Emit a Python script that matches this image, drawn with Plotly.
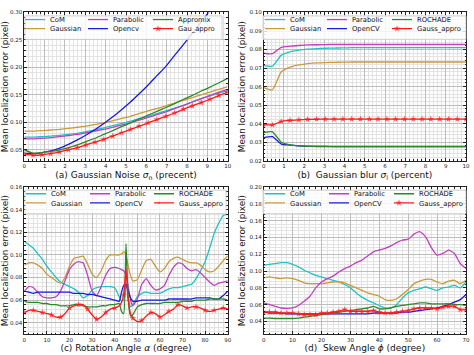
import plotly.graph_objects as go

# ---------------- data ----------------
# (a) Gaussian noise
X_A = [0, 0.43, 0.87, 1.30, 1.74, 2.17, 2.61, 3.04, 3.48, 3.91, 4.35, 4.78,
       5.22, 5.65, 6.09, 6.52, 6.96, 7.39, 7.83, 8.26, 8.70, 9.13, 9.57, 10]
A_COM = [.073, .073, .074, .075, .076, .078, .080, .083, .086, .090, .094, .098,
         .102, .107, .111, .116, .121, .126, .131, .137, .143, .148, .153, .158]
A_GAUSS = [.084, .084, .085, .086, .087, .089, .091, .093, .096, .099, .103, .107,
           .111, .116, .121, .125, .130, .135, .140, .145, .150, .155, .160, .165]
A_PARAB = [.070, .070, .071, .072, .074, .076, .078, .081, .084, .087, .091, .095,
           .099, .104, .109, .114, .119, .125, .131, .137, .143, .149, .155, .160]
A_OPENCV = [.044, .043, .045, .048, .053, .060, .068, .077, .087, .098, .110, .123,
            .137, .152, .168, .185, .202, .222, .242, .262, .283, .304, .326, .349]
A_APPROMIX = [.050, .044, .045, .047, .050, .054, .059, .065, .071, .078, .085, .092,
              .099, .106, .113, .120, .127, .134, .142, .149, .157, .164, .172, .180]
A_GAUAPPRO = [.042, .040, .041, .043, .046, .050, .054, .059, .064, .069, .075, .081,
              .087, .093, .099, .105, .111, .117, .124, .130, .136, .142, .149, .155]

# (b) Gaussian blur
X_B = X_A
B_COM = [.0713, .0710, .0770, .0788, .0797, .0802, .0805, .0807, .0808, .0809, .0810, .0810,
         .0810, .0810, .0810, .0810, .0810, .0810, .0810, .0810, .0810, .0810, .0810, .0810]
B_GAUSS = [.0595, .0583, .0680, .0705, .0717, .0724, .0728, .0730, .0731, .0732, .0733, .0733,
           .0733, .0733, .0733, .0733, .0733, .0733, .0733, .0733, .0733, .0733, .0733, .0733]
B_PARAB = [.0780, .0778, .0812, .0818, .0822, .0825, .0826, .0827, .0828, .0828, .0828, .0828,
           .0828, .0828, .0828, .0828, .0828, .0828, .0828, .0828, .0828, .0828, .0828, .0828]
B_OPENCV = [.0325, .0330, .0290, .0285, .0280, .0278, .0277, .0277, .0276, .0276, .0276, .0276,
            .0276, .0276, .0276, .0276, .0276, .0276, .0276, .0276, .0276, .0276, .0276, .0276]
B_ROCHADE = [.0352, .0356, .0300, .0286, .0281, .0279, .0278, .0278, .0277, .0277, .0277, .0277,
             .0277, .0277, .0277, .0277, .0277, .0277, .0277, .0277, .0277, .0277, .0277, .0277]
B_GAUSSAPPRO = [.0395, .0393, .0412, .0418, .0421, .0423, .0424, .0425, .0425, .0425, .0425, .0425,
                .0425, .0425, .0425, .0425, .0425, .0425, .0425, .0425, .0425, .0425, .0425, .0425]

# (c) Rotation angle
X_C = [0, 2, 4, 6, 8, 10, 12, 14, 16, 18, 20, 22, 24, 26, 28, 30, 32, 34, 36, 38, 40, 42,
       43, 44, 45, 46, 47,
       48, 50, 52, 54, 56, 58, 60, 62, 64, 66, 68, 70, 72, 74, 76, 78, 80, 82, 84, 86, 88, 90]
C_COM = [.112, .109, .106, .101, .096, .090, .085, .080, .076, .074, .072, .070, .067, .062, .064,
         .069, .071, .072, .072, .072, .071, .063,
         .059, .060, .075, .062, .054,
         .056, .063, .066, .067, .066, .066, .066, .068, .070, .071, .071, .072, .073, .074, .079,
         .086, .094, .106, .119, .128, .135, .136]
C_GAUSS = [.091, .093, .093, .091, .088, .083, .080, .077, .075, .080, .090, .097, .098, .099, .092,
           .083, .080, .086, .095, .100, .100, .100,
           .101, .103, .100, .090, .082,
           .077, .078, .087, .095, .096, .090, .085, .088, .094, .097, .098, .096, .094, .093, .093,
           .091, .087, .085, .086, .090, .095, .099]
C_PARAB = [.068, .072, .071, .067, .063, .062, .062, .063, .068, .077, .087, .092, .094, .093, .082,
           .068, .064, .072, .082, .088, .089, .088,
           .087, .086, .082, .072, .060,
           .055, .061, .074, .079, .073, .069, .070, .073, .082, .089, .093, .092, .088, .086, .087,
           .084, .080, .076, .073, .075, .076, .077]
C_OPENCV = [.068, .067, .066, .067, .067, .067, .067, .067, .067, .067, .067, .066, .066, .066, .065,
            .065, .064, .063, .062, .061, .060, .059,
            .067, .073, .074, .068, .062,
            .059, .059, .060, .060, .060, .060, .060, .060, .061, .061, .061, .061, .061, .061, .062,
            .062, .062, .062, .061, .061, .064, .068]
C_ROCHADE = [.059, .058, .058, .058, .057, .057, .056, .056, .055, .055, .055, .056, .056, .055, .054,
             .054, .054, .055, .055, .056, .056, .057,
             .050, .048, .110, .060, .046,
             .047, .054, .056, .057, .057, .057, .057, .058, .058, .058, .058, .059, .059, .059, .060,
             .060, .060, .061, .061, .061, .061, .060]
C_GAUSSAPPRO = [.049, .051, .051, .050, .049, .048, .047, .045, .045, .048, .053, .055, .056, .056, .052,
                .047, .043, .045, .049, .052, .053, .055,
                .058, .065, .088, .060, .048,
                .044, .041, .042, .046, .049, .048, .045, .047, .050, .052, .056, .055, .053, .054, .054,
                .053, .051, .050, .051, .052, .053, .052]

# (d) Skew angle
X_D = [0, 2, 4, 6, 8, 10, 12, 14, 16, 18, 20, 22, 24, 26, 28, 30, 32, 34,
       36, 38, 40, 42, 44, 46, 48, 50, 52, 54, 56, 58, 60, 62, 64, 66, 68, 70]
D_COM = [.107, .108, .109, .110, .110, .108, .105, .101, .098, .095, .093, .091, .089, .087, .084,
         .080, .074, .069, .065, .062, .059, .056, .056, .060, .068, .074, .077, .079, .081, .079,
         .077, .080, .081, .083, .080, .087]
D_GAUSS = [.092, .093, .092, .091, .092, .091, .089, .086, .085, .085, .085, .086, .087, .087, .086,
           .083, .080, .077, .074, .072, .070, .066, .065, .067, .072, .078, .085, .088, .090, .090,
           .087, .085, .088, .089, .085, .089]
D_PARAB = [.062, .060, .058, .056, .0555, .056, .059, .064, .070, .080, .087, .091, .094, .099, .103,
           .106, .110, .113, .118, .123, .125, .127, .130, .134, .137, .138, .144, .147, .141, .128,
           .119, .121, .125, .121, .109, .103]
D_OPENCV = [.051, .050, .050, .050, .049, .049, .049, .049, .049, .049, .049, .049, .049, .049, .049,
            .049, .049, .049, .049, .050, .050, .050, .050, .050, .051, .051, .052, .053, .054, .055,
            .056, .058, .060, .063, .066, .072]
D_ROCHADE = [.044, .044, .0435, .0435, .0435, .0435, .044, .045, .046, .047, .048, .049, .050, .051,
             .052, .053, .054, .055, .056, .058, .055, .055, .056, .058, .059, .060, .061, .062, .062,
             .061, .061, .061, .061, .060, .060, .059]
D_GAUSSAPPRO = [.051, .051, .051, .050, .050, .050, .049, .048, .048, .048, .050, .050, .051, .052,
                .054, .052, .052, .052, .052, .053, .051, .050, .050, .051, .052, .053, .055, .056,
                .056, .056, .055, .057, .058, .058, .054, .054]

# ---------------- style ----------------
C_CYAN = "#1fc3c3"
C_GOLD = "#c99a3c"
C_MAG = "#c040c0"
C_GREEN = "#2a8a2a"
C_BLUE = "#1a1ae0"
C_RED = "#ff1a1a"
FONT = "DejaVu Sans"

W, H = 474, 355
ML, MR, MT, MB = 24, 8, 5, 21
PW, PH = W - ML - MR, H - MT - MB


def px(xp):
    return (xp - ML) / PW


def py(yp):
    return (H - MB - yp) / PH


fig = go.Figure()

# legend entry slots: (column text x in px, row)
TEXT_X = {1: (50, 113, 178), 2: (290, 352, 417), 3: (51, 115, 179), 4: (290, 354, 419)}
ROW_Y = {1: (15.7, 25.0), 2: (15.7, 25.0), 3: (193.7, 203.0), 4: (193.7, 203.0)}
legends = {}


def add(xs, ys, name, color, axis, col, row, marker_every=None):
    xa = "x" if axis == 1 else "x%d" % axis
    ya = "y" if axis == 1 else "y%d" % axis
    idx = len(legends) + 1
    lname = "legend" if idx == 1 else "legend%d" % idx
    legends[lname] = dict(
        x=px(TEXT_X[axis][col] - 25), y=py(ROW_Y[axis][row] - 17.8),
        xanchor="left", yanchor="top", orientation="h",
        bgcolor="rgba(0,0,0,0)", borderwidth=0, itemwidth=30, indentation=-15,
        font=dict(family=FONT, size=6.8, color="#111"))
    kw = dict(x=xs, y=ys, name=name, xaxis=xa, yaxis=ya, legend=lname,
              line=dict(color=color, width=1.3, shape="spline", smoothing=0.5))
    if marker_every is not None:
        sizes = [5 if marker_every(i, xv) else 0 for i, xv in enumerate(xs)]
        kw["mode"] = "lines+markers"
        kw["marker"] = dict(symbol="star", size=sizes, color=color, line=dict(width=0))
    else:
        kw["mode"] = "lines"
    fig.add_trace(go.Scatter(**kw))


every = lambda i, xv: True
# (a)
add(X_A, A_COM, "CoM", C_CYAN, 1, 0, 0)
add(X_A, A_GAUSS, "Gaussian", C_GOLD, 1, 0, 1)
add(X_A, A_PARAB, "Parabolic", C_MAG, 1, 1, 0)
add(X_A, A_OPENCV, "Opencv", C_BLUE, 1, 1, 1)
add(X_A, A_APPROMIX, "Appromix", C_GREEN, 1, 2, 0)
add(X_A, A_GAUAPPRO, "Gau_appro", C_RED, 1, 2, 1, every)
# (b)
add(X_B, B_COM, "CoM", C_CYAN, 2, 0, 0)
add(X_B, B_GAUSS, "Gaussian", C_GOLD, 2, 0, 1)
add(X_B, B_PARAB, "Parabolic", C_MAG, 2, 1, 0)
add(X_B, B_OPENCV, "OpenCV", C_BLUE, 2, 1, 1)
add(X_B, B_ROCHADE, "ROCHADE", C_GREEN, 2, 2, 0)
add(X_B, B_GAUSSAPPRO, "Gauss_appro", C_RED, 2, 2, 1, every)
# (c)
add(X_C, C_COM, "CoM", C_CYAN, 3, 0, 0)
add(X_C, C_GAUSS, "Gaussian", C_GOLD, 3, 0, 1)
add(X_C, C_PARAB, "Parabolic", C_MAG, 3, 1, 0)
add(X_C, C_OPENCV, "OpenCV", C_BLUE, 3, 1, 1)
add(X_C, C_ROCHADE, "ROCHADE", C_GREEN, 3, 2, 0)
add(X_C, C_GAUSSAPPRO, "Gauss_appro", C_RED, 3, 2, 1, lambda i, xv: xv % 4 == 0)
# (d)
add(X_D, D_COM, "CoM", C_CYAN, 4, 0, 0)
add(X_D, D_GAUSS, "Gaussian", C_GOLD, 4, 0, 1)
add(X_D, D_PARAB, "Parabolic", C_MAG, 4, 1, 0)
add(X_D, D_OPENCV, "OpenCV", C_BLUE, 4, 1, 1)
add(X_D, D_ROCHADE, "ROCHADE", C_GREEN, 4, 2, 0)
add(X_D, D_GAUSSAPPRO, "Gauss_appro", C_RED, 4, 2, 1, every)


def xax(domain, rng, dtick, minor, title, anchor):
    return dict(domain=domain, range=rng, dtick=dtick, tick0=0, anchor=anchor,
                showline=True, linecolor="#222", linewidth=0.8, mirror="allticks",
                ticks="inside", ticklen=3, tickwidth=0.7, tickcolor="#222",
                tickfont=dict(family=FONT, size=5.5, color="#222"),
                showgrid=True, gridcolor="#bdbdbd", gridwidth=0.6, zeroline=False,
                minor=dict(dtick=minor, showgrid=True, gridcolor="#e3e3e3", gridwidth=0.5,
                           ticks="inside", ticklen=1.5, tickcolor="#222"),
                title=dict(text=title, font=dict(family=FONT, size=9, color="#111"), standoff=3),
                automargin=False)


def yax(domain, rng, dtick, minor, anchor, fmt):
    return dict(domain=domain, range=rng, dtick=dtick, tick0=0, anchor=anchor, tickformat=fmt,
                showline=True, linecolor="#222", linewidth=0.8, mirror="allticks",
                ticks="inside", ticklen=3, tickwidth=0.7, tickcolor="#222",
                tickfont=dict(family=FONT, size=5.5, color="#222"),
                showgrid=True, gridcolor="#bdbdbd", gridwidth=0.6, zeroline=False,
                minor=dict(dtick=minor, showgrid=True, gridcolor="#e3e3e3", gridwidth=0.5,
                           ticks="inside", ticklen=1.5, tickcolor="#222"),
                title=dict(text="Mean localization error (pixel)",
                           font=dict(family=FONT, size=8.8, color="#111"), standoff=2),
                automargin=False)


DX1 = [px(24.3), px(227.7)]
DX2 = [px(263.7), px(466)]
DY1 = [py(157), py(5.5)]
DY2 = [py(334), py(184)]

# legend frames (left x, top y, right x, bottom y in pixels)
FRAMES = [(25, 9, 222, 33), (263, 9, 466, 33), (25, 187, 226, 211), (263, 187, 466, 211)]
shapes = []
for (x0, y0, x1, y1) in FRAMES:
    shapes.append(dict(type="rect", xref="paper", yref="paper", layer="above",
                       x0=px(x0), x1=px(x1), y0=py(y1), y1=py(y0),
                       fillcolor="rgba(255,255,255,0.82)", line=dict(color="#c8c8c8", width=0.8)))

fig.update_layout(
    width=W, height=H,
    margin=dict(l=ML, r=MR, t=MT, b=MB),
    paper_bgcolor="white", plot_bgcolor="white",
    showlegend=True,
    shapes=shapes,
    xaxis=xax(DX1, [0, 10], 1, 0.2, "(a) Gaussian Noise <i>σ</i><sub>n</sub> (precent)", "y"),
    yaxis=yax(DY1, [0.03, 0.30], 0.05, 0.01, "x", ".2f"),
    xaxis2=xax(DX2, [0, 10], 1, 0.2, "(b)  Gaussian blur <i>σ</i><sub>l</sub> (percent)", "y2"),
    yaxis2=yax(DY1, [0.02, 0.10], 0.01, 0.002, "x2", ".2f"),
    xaxis3=xax(DX1, [0, 90], 10, 2, "(c) Rotation Angle <i>α</i> (degree)", "y3"),
    yaxis3=yax(DY2, [0.03, 0.16], 0.02, 0.004, "x3", ".2f"),
    xaxis4=xax(DX2, [0, 70], 10, 2, "(d)  Skew Angle <i>ϕ</i> (degree)", "y4"),
    yaxis4=yax(DY2, [0.025, 0.20], 0.02, 0.004, "x4", ".2f"),
    **legends,
)

fig.write_html("out.html", config={"displayModeBar": False},
               post_script="document.body.style.margin='0px';")
